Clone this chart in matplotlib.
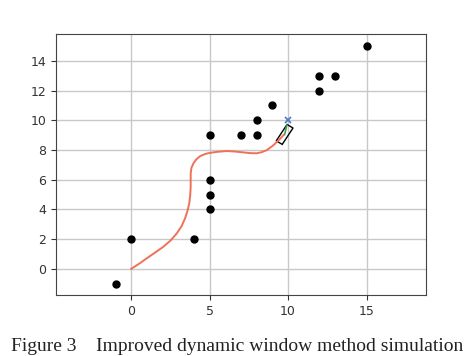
import numpy as np
import matplotlib
matplotlib.use("Agg")
import matplotlib.pyplot as plt
from matplotlib.patches import Polygon

# obstacles
obs_x = [-1, 0, 4, 5, 5, 5, 5, 7, 8, 8, 9, 12, 12, 13, 15]
obs_y = [-1, 2, 2, 4, 5, 6, 9, 9, 9, 10, 11, 12, 13, 13, 15]

goal = (10, 10)

# travelled path
traj_x = [0, 0.5, 0.98, 1.5, 2.04, 2.5, 2.9, 3.2, 3.43, 3.58, 3.70, 3.76,
          3.79, 3.79, 3.79, 3.84, 3.96, 4.15, 4.38, 4.7, 5.02, 5.5,
          6.09, 6.6, 7.15, 7.6, 8.0, 8.3, 8.64, 9.06, 9.45, 9.7]
traj_y = [0, 0.34, 0.70, 1.08, 1.48, 1.9, 2.38, 2.85, 3.39, 3.88, 4.40, 4.95,
          5.52, 6.0, 6.42, 6.8, 7.09, 7.37, 7.58, 7.73, 7.81, 7.88,
          7.93, 7.9, 7.84, 7.79, 7.78, 7.85, 7.99, 8.32, 8.71, 9.0]

# robot pose and predicted trajectory
robot_x, robot_y, robot_yaw = 9.78, 9.05, np.deg2rad(58)
robot_len, robot_wid = 1.3, 0.45
pred_x = [9.78, 9.85, 9.92]
pred_y = [9.05, 9.35, 9.68]

fig = plt.figure(figsize=(4.74, 3.56), dpi=100)
ax = fig.add_axes([0.118, 0.171, 0.781, 0.733])

ax.plot(obs_x, obs_y, "ok", markersize=5)
ax.plot(traj_x, traj_y, "-", color="#f07058", linewidth=1.4,
        solid_joinstyle="round")
ax.plot(pred_x, pred_y, "-", color="#3aa04a", linewidth=1.2)
ax.plot(goal[0], goal[1], "x", color="#4a78c8", markersize=5, mew=1.2)

# robot body rectangle
c, s = np.cos(robot_yaw), np.sin(robot_yaw)
corners = []
for dl, dw in [(-0.5, -0.5), (0.5, -0.5), (0.5, 0.5), (-0.5, 0.5)]:
    lx, ly = dl * robot_len, dw * robot_wid
    corners.append((robot_x + lx * c - ly * s, robot_y + lx * s + ly * c))
ax.add_patch(Polygon(corners, closed=True, fill=False, edgecolor="black", linewidth=1.0))

ax.set_xlim(-4.8, 18.8)
ax.set_ylim(-1.77, 15.8)
ax.set_xticks([0, 5, 10, 15])
ax.set_yticks([0, 2, 4, 6, 8, 10, 12, 14])
ax.grid(True, color="#c8c8c8", linewidth=1.0)
ax.set_axisbelow(True)
ax.tick_params(labelsize=9, colors="#333333")
for sp in ax.spines.values():
    sp.set_color("#444444")

fig.text(0.5, 0.002, "Figure 3    Improved dynamic window method simulation",
         ha="center", va="bottom", fontsize=14, family="Liberation Serif", color="#222222")

fig.savefig("out.png", dpi=100)
